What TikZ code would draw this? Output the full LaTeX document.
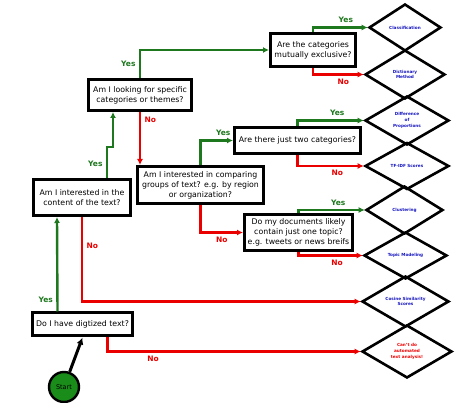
\documentclass[tikz,border=0pt]{standalone}
\usepackage{fontspec}
\setmainfont{DejaVu Sans}
\usetikzlibrary{shapes.geometric,arrows.meta}
\definecolor{yesgreen}{RGB}{30,120,30}
\definecolor{nored}{RGB}{235,0,0}
\definecolor{methodblue}{RGB}{20,20,190}
\definecolor{startgreen}{RGB}{25,140,25}

\begin{document}
\begin{tikzpicture}[x=1pt,y=-1pt,
	question/.style={draw,line width=3pt,fill=white,align=center,inner sep=1pt,font=\fontsize{7.8}{10}\selectfont},
	method/.style={draw,diamond,line width=2.6pt,inner sep=0pt,align=center,text=methodblue,font=\fontsize{4.2}{5.8}\selectfont\bfseries},
	yesarrow/.style={draw=yesgreen,line width=2.4pt,-{Latex[length=6pt,width=6pt]}},
	noarrow/.style={draw=nored,line width=2.4pt,-{Latex[length=6pt,width=6pt]}},
	yeslabel/.style={text=yesgreen,font=\fontsize{7.5}{8}\selectfont\bfseries},
	nolabel/.style={text=nored,font=\fontsize{7.5}{8}\selectfont\bfseries}]
			\useasboundingbox (0,0) rectangle (474,403);
			\node[question,minimum width=100pt,minimum height=23pt] (dig) at (82.5,324.5) {Do I have digtized text?};
			\node[question,minimum width=97pt,minimum height=36pt] (content) at (82,197.5) {Am I interested in the\\content of the text?};
			\node[question,minimum width=103pt,minimum height=31pt] (looking) at (140,95) {Am I looking for specific\\categories or themes?};
			\node[question,minimum width=126pt,minimum height=37pt] (comparing) at (200.5,185) {Am I interested in comparing\\groups of text? e.g. by region\\or organization?};
			\node[question,minimum width=85pt,minimum height=33pt] (mutual) at (313,50) {Are the categories\\mutually exclusive?};
			\node[question,minimum width=126pt,minimum height=26pt] (two) at (297.5,140.5) {Are there just two categories?};
			\node[question,minimum width=108pt,minimum height=36pt] (topic) at (298.5,232.5) {Do my documents likely\\contain just one topic?\\e.g. tweets or news breifs};
			\node[method,minimum width=72pt,minimum height=47pt] (classif) at (405,27.5) {Classification};
			\node[method,minimum width=80pt,minimum height=49pt] (dict) at (405,74.5) {Dictionary\\Method};
			\node[method,minimum width=84pt,minimum height=49pt] (diff) at (407,120.5) {Difference\\of\\Proportions};
			\node[method,minimum width=84pt,minimum height=47pt] (tfidf) at (407,166) {TF-IDF Scores};
			\node[method,minimum width=77pt,minimum height=48pt] (clust) at (404.5,210) {Clustering};
			\node[method,minimum width=83pt,minimum height=47pt] (topmod) at (405.5,255.5) {Topic Modeling};
			\node[method,minimum width=87pt,minimum height=51pt] (cosine) at (405.5,301.5) {Cosine Similarity\\Scores};
			\node[method,minimum width=90pt,minimum height=53pt,text=nored] (cant) at (407,351.5) {Can't do\\automated\\text analysis!};
			\node[circle,draw,line width=2.4pt,fill=startgreen,minimum size=30pt,inner sep=0pt,font=\fontsize{6.5}{7}\selectfont] (start) at (64,387) {Start};
			\draw[line width=3pt,-{Latex[length=7pt,width=7pt]}] (start) -- (dig.south);
			\draw[yesarrow] ([xshift=-25pt]dig.north) -- node[yeslabel,left,pos=0.12] {Yes} ([xshift=-25pt]content.south);
			\draw[noarrow] (content.south) |- node[nolabel,right,pos=0.17] {No} (cosine.west);
			\draw[noarrow] ([xshift=25pt]dig.south) |- node[nolabel,below,pos=0.59] {No} (cant.west);
			\draw[yesarrow] ([xshift=25pt]content.north) -- node[yeslabel,left,pos=0.45] {Yes} ++(0,-31) -| ([xshift=-27pt]looking.south);
			\draw[yesarrow] (looking.north) |- node[yeslabel,left,pos=0.25] {Yes} (mutual.west);
			\draw[noarrow] (looking.south) -- node[nolabel,right,pos=0.15] {No} (looking.south |- comparing.north);
			\draw[yesarrow] (comparing.north) |- node[yeslabel,above,pos=0.85] {Yes} (two.west);
			\draw[noarrow] (comparing.south) |- node[nolabel,below,pos=0.75] {No} (topic.west);
			\draw[yesarrow] (mutual.north) |- node[yeslabel,above,pos=0.8] {Yes} (classif.west);
			\draw[noarrow] (mutual.south) |- node[nolabel,below,pos=0.8] {No} (dict.west);
			\draw[yesarrow] (two.north) |- node[yeslabel,above,pos=0.8] {Yes} (diff.west);
			\draw[noarrow] (two.south) |- node[nolabel,below,pos=0.8] {No} (tfidf.west);
			\draw[yesarrow] (topic.north) |- node[yeslabel,above,pos=0.8] {Yes} (clust.west);
			\draw[noarrow] (topic.south) |- node[nolabel,below,pos=0.8] {No} (topmod.west);
		\end{tikzpicture}
\end{document}
